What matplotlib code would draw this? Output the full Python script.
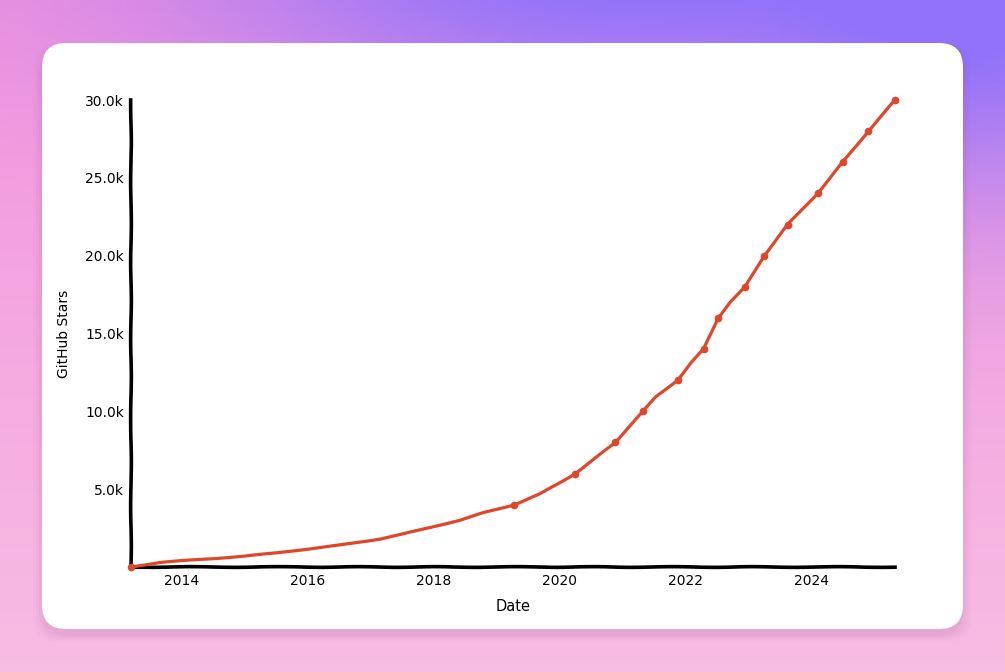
import matplotlib
matplotlib.use("Agg")
import matplotlib.pyplot as plt
import matplotlib.ticker as mticker
import matplotlib.dates as mdates
from matplotlib.patches import FancyBboxPatch
import numpy as np
import pandas as pd

# Data
dates = ["2013-03-15", "2013-09-01", "2014-01-01", "2014-07-15", "2015-01-01",
         "2015-07-01", "2016-01-01", "2016-07-01", "2017-02-25", "2017-07-01",
         "2018-01-01", "2018-06-05", "2018-10-20", "2019-04-15", "2019-09-10",
         "2020-01-01", "2020-04-01", "2020-11-20", "2021-02-05", "2021-04-28",
         "2021-07-10", "2021-11-15", "2022-01-30", "2022-04-15", "2022-07-08",
         "2022-09-15", "2022-12-12", "2023-04-01", "2023-08-15", "2024-02-05",
         "2024-04-10", "2024-06-28", "2024-11-25", "2025-04-28"]
stars = [0, 300, 400, 550, 700,
         900, 1150, 1400, 1800, 2100,
         2600, 3000, 3500, 4000, 4700,
         5400, 6000, 8000, 9000, 10000,
         10900, 12000, 13100, 14000, 16000,
         17000, 18000, 20000, 22000, 24000,
         24900, 26000, 28000, 30000]
marked = [0, 13, 16, 17, 19, 21, 23, 24, 26, 27, 28, 29, 31, 32, 33]

x = pd.to_datetime(dates)

W, H = 1005, 672
plt.rcParams["font.family"] = ["DejaVu Sans"]
fig = plt.figure(figsize=(W / 100, H / 100), dpi=100)

# background gradient + card
bg = fig.add_axes([0, 0, 1, 1])
bg.set_xlim(0, W)
bg.set_ylim(H, 0)
bg.axis("off")
gx, gy = np.meshgrid(np.linspace(0, 1, 200), np.linspace(0, 1, 140))
pink = np.array([0.95, 0.58, 0.87])
pink2 = np.array([0.97, 0.74, 0.89])
purple = np.array([0.57, 0.45, 0.98])
w = np.exp(-(((gx - 0.6) / 0.42) ** 2 + ((gy + 0.05) / 0.22) ** 2))
w = np.clip(w + 0.7 * np.exp(-(((gx - 1.0) / 0.2) ** 2 + ((gy - 0.05) / 0.3) ** 2)), 0, 1)
base = pink[None, None, :] * (1 - gy[..., None]) + pink2[None, None, :] * gy[..., None]
img = base * (1 - w[..., None]) + purple[None, None, :] * w[..., None]
bg.imshow(img, extent=(0, W, H, 0), aspect="auto", zorder=0)
for i, a in enumerate([0.05, 0.04, 0.03, 0.02]):
    bg.add_patch(FancyBboxPatch((42 - i * 3, 50 - i * 2), 921 + i * 6, 586 + i * 4,
                                boxstyle="round,pad=0,rounding_size=26",
                                fc="#7a3a7a", ec="none", alpha=a, zorder=1))
bg.add_patch(FancyBboxPatch((42, 43), 921, 586, boxstyle="round,pad=0,rounding_size=24",
                            fc="white", ec="none", zorder=2))

ax = fig.add_axes([131 / W, 1 - 567 / H, (895 - 131) / W, (567 - 100) / H])
ax.patch.set_alpha(0)
line, = ax.plot(x, stars, color="#e0472a", lw=2.3, marker="o", ms=4.5,
                markevery=marked, solid_capstyle="round", zorder=3, clip_on=False)
line.set_sketch_params(0.2, 80, 2)

ax.set_xlim(x[0], x[-1])
ax.set_ylim(0, 30000)
ax.spines["top"].set_visible(False)
ax.spines["right"].set_visible(False)
for s in ("left", "bottom"):
    ax.spines[s].set_linewidth(2.6)
    ax.spines[s].set_sketch_params(0.35, 90, 2)
ax.yaxis.set_major_locator(mticker.FixedLocator([5000, 10000, 15000, 20000, 25000, 30000]))
ax.yaxis.set_major_formatter(mticker.FuncFormatter(lambda v, p: f"{v / 1000:.1f}k"))
ax.xaxis.set_major_locator(mdates.YearLocator(2))
ax.xaxis.set_major_formatter(mdates.DateFormatter("%Y"))
ax.tick_params(length=0, labelsize=10, pad=5)
ax.set_xlabel("Date", fontsize=10.5, labelpad=8)
ax.set_ylabel("GitHub Stars", fontsize=10, labelpad=10)

fig.savefig("out.png", dpi=100)
